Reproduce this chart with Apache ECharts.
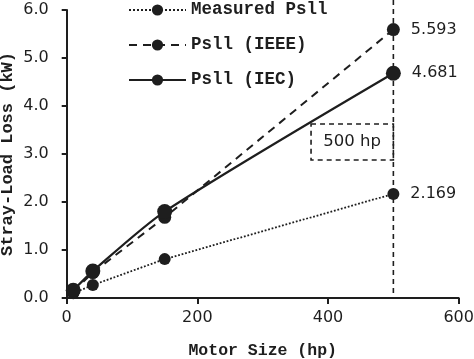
<!DOCTYPE html>
<html><head><meta charset="utf-8">
<script src="https://cdn.jsdelivr.net/npm/echarts@6/dist/echarts.min.js"></script>
<style>html,body{margin:0;padding:0;background:#fff}#c{width:474px;height:359px}</style>
</head><body><div id="c"></div>
<script>
const motorSizes = [10, 40, 150, 500];
const measured = [0.10, 0.27, 0.81, 2.169];
const ieee = [0.134, 0.53, 1.68, 5.593];
const iec = [0.16, 0.56, 1.80, 4.681];
const seriesNames = ['Measured Psll', 'Psll (IEEE)', 'Psll (IEC)'];
const xTicks = [0, 200, 400, 600];
const yTicks = [0, 1, 2, 3, 4, 5, 6];
const refLineX = 500;
const boxLabel = '500 hp';
const boxRange = [[374, 3.625], [500, 2.875]];

const ink = '#1e1e1e';
const mono = '"Liberation Mono", "Courier New", monospace';
const sans = '"DejaVu Sans", Verdana, sans-serif';

function mk(vals) {
  return vals.map((v, i) => {
    const item = { value: [motorSizes[i], v] };
    if (i === vals.length - 1) {
      item.label = { show: true, position: 'right', distance: 11,
        formatter: () => v.toFixed(3), fontFamily: sans, fontSize: 16, color: ink };
    }
    return item;
  });
}

const chart = echarts.init(document.getElementById('c'), null, { renderer: 'canvas' });
chart.setOption({
  animation: false,
  backgroundColor: '#fff',
  grid: { left: 66.7, right: 15.3, top: 10, bottom: 61, outerBoundsMode: 'none', containLabel: false },
  legend: {
    orient: 'vertical', left: 123, top: -4,
    itemWidth: 57, itemHeight: 14, itemGap: 17,
    textStyle: { fontFamily: mono, fontWeight: 'bold', fontSize: 17.5, color: ink },
    data: seriesNames
  },
  xAxis: {
    type: 'value', min: xTicks[0], max: xTicks[xTicks.length - 1], interval: 200,
    name: 'Motor Size (hp)', nameLocation: 'middle', nameGap: 44, nameMoveOverlap: false,
    nameTextStyle: { fontFamily: mono, fontWeight: 'bold', fontSize: 16.5, color: ink },
    axisLine: { lineStyle: { color: ink, width: 2 } },
    axisTick: { inside: false, length: 6, lineStyle: { color: ink, width: 2 } },
    axisLabel: { fontFamily: sans, fontSize: 16, color: ink, margin: 12 },
    splitLine: { show: false }
  },
  yAxis: {
    type: 'value', min: yTicks[0], max: yTicks[yTicks.length - 1], interval: 1,
    name: 'Stray-Load Loss (kW)', nameLocation: 'middle', nameGap: 50, nameMoveOverlap: false,
    nameTextStyle: { fontFamily: mono, fontWeight: 'bold', fontSize: 17, color: ink },
    axisLine: { show: true, lineStyle: { color: ink, width: 2 } },
    axisTick: { show: true, inside: false, length: 5, lineStyle: { color: ink, width: 2 } },
    axisLabel: { fontFamily: sans, fontSize: 16, color: ink, margin: 18, formatter: v => v.toFixed(1) },
    splitLine: { show: false }
  },
  series: [
    {
      name: seriesNames[0], type: 'line', data: mk(measured),
      symbol: 'circle', symbolSize: 12, clip: false,
      itemStyle: { color: ink }, lineStyle: { color: ink, width: 1.8, type: 'dotted' },
      markArea: {
        silent: true,
        itemStyle: { color: 'rgba(0,0,0,0)', borderColor: ink, borderWidth: 1.6, borderType: [5, 4] },
        label: { show: true, position: 'inside', fontFamily: sans, fontSize: 16.5, color: ink },
        data: [[{ name: boxLabel, coord: boxRange[0] }, { coord: boxRange[1] }]]
      }
    },
    {
      name: seriesNames[1], type: 'line', data: mk(ieee),
      symbol: 'circle', symbolSize: 13, clip: false,
      itemStyle: { color: ink }, lineStyle: { color: ink, width: 2, type: [8, 6] }
    },
    {
      name: seriesNames[2], type: 'line', data: mk(iec), smooth: 0.25,
      symbol: 'circle', symbolSize: 15, clip: false,
      itemStyle: { color: ink }, lineStyle: { color: ink, width: 2.2, type: 'solid' }
    }
  ]
});

// vertical dashed reference line at 500 hp, positioned through the axis scale
const bottom = chart.convertToPixel({ gridIndex: 0 }, [refLineX, yTicks[0]]);
chart.setOption({
  graphic: [{
    type: 'line', silent: true, z: 1,
    shape: { x1: bottom[0], y1: 0, x2: bottom[0], y2: bottom[1] },
    style: { stroke: ink, lineWidth: 1.6, lineDash: [5, 4] }
  }]
});
</script></body></html>
